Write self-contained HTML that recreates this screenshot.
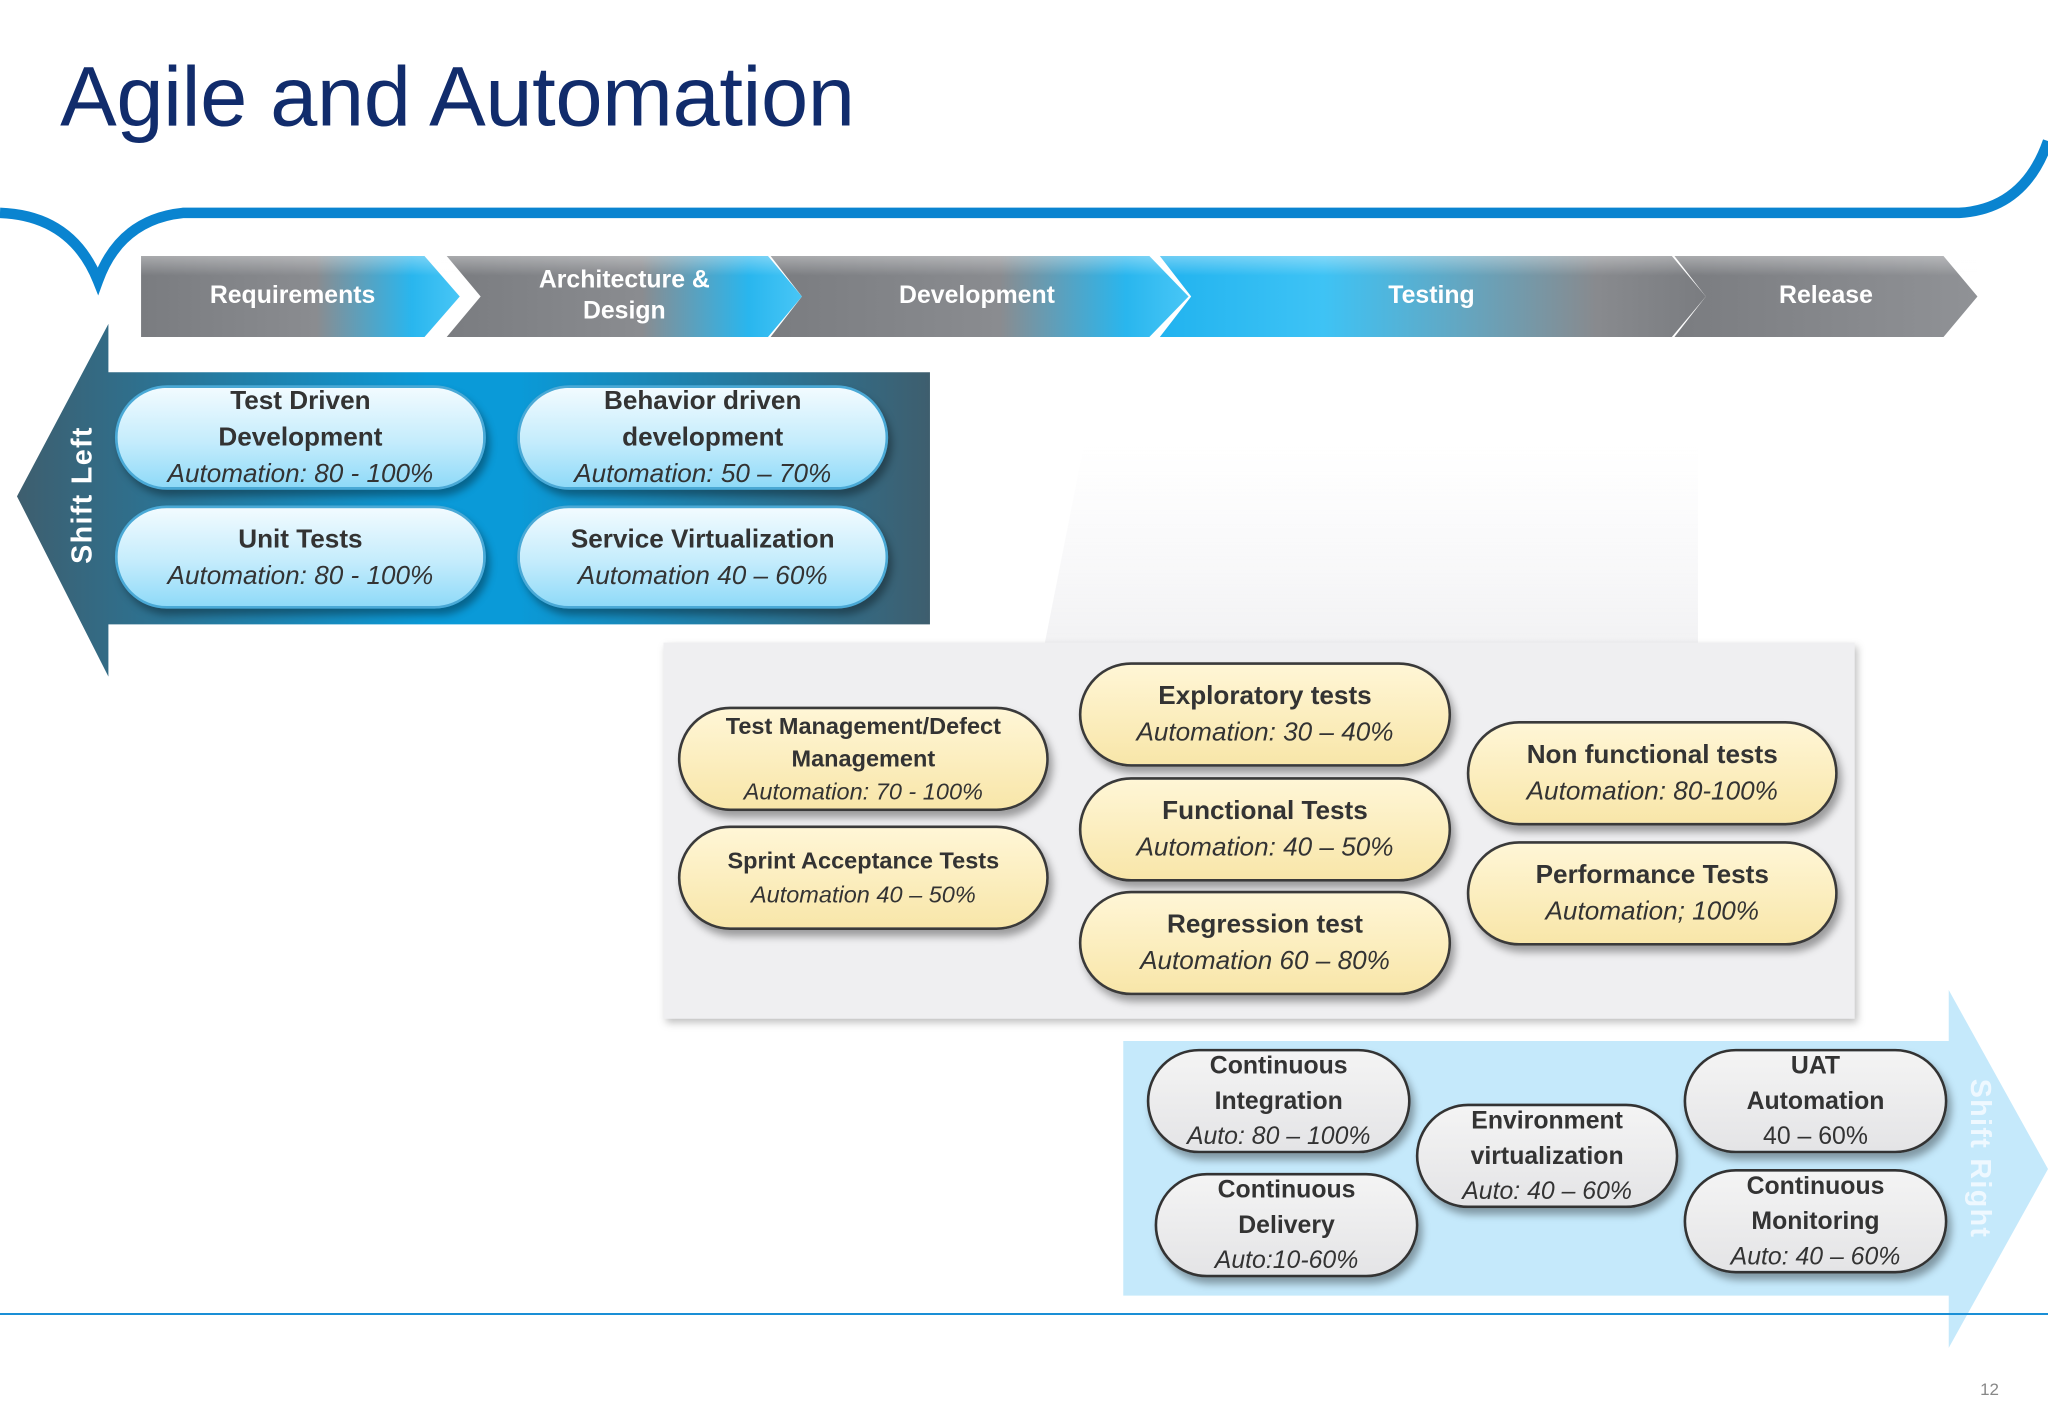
<!DOCTYPE html>
<html><head><meta charset="utf-8"><style>
html,body{margin:0;padding:0;background:#fff;overflow:hidden}
#w{position:absolute;left:0;top:0;width:1568px;height:1086px;transform:scale(1.306122);transform-origin:0 0;font-family:"Liberation Sans",sans-serif}
.a{position:absolute}
.pill{position:absolute;border-radius:40px;text-align:center;display:flex;flex-direction:column;justify-content:center;box-sizing:border-box;color:#333;font-size:20px;line-height:28px;box-shadow:3px 5px 6px rgba(0,0,0,.35)}
.pill b{font-weight:bold}
.pill i{font-style:italic}
.bl{background:linear-gradient(#f2fbff,#c4ecfc 55%,#8fdaf8);border:2px solid #4aa9d6}
.ye{background:linear-gradient(#fff6d6,#f8e6a9);border:2px solid #3a3a3a;font-size:20px}
.gr{background:linear-gradient(#f4f4f4,#e4e4e6);border:2px solid #333;font-size:19px;line-height:27px}
.chev{position:absolute;top:196px;height:62px;color:#fff;font-weight:bold;font-size:19px;display:flex;align-items:center;justify-content:center;text-align:center;line-height:24px}
</style></head><body><div id="w">
<div class="a" style="left:46px;top:36px;font-size:65px;color:#112c6c;letter-spacing:-0.3px">Agile and Automation</div>
<svg class="a" style="left:0;top:0" width="1568" height="1086">
<defs>
<linearGradient id="cg" x1="0" y1="0" x2="1" y2="0"><stop offset="0" stop-color="#7a7c80"/><stop offset=".55" stop-color="#8a8c90"/><stop offset=".85" stop-color="#29b6ee"/><stop offset="1" stop-color="#48c6f6"/></linearGradient>
<linearGradient id="cg2" x1="0" y1="0" x2="1" y2="0"><stop offset="0" stop-color="#21b3ef"/><stop offset=".3" stop-color="#3ec3f5"/><stop offset=".8" stop-color="#888a8e"/><stop offset="1" stop-color="#7a7c80"/></linearGradient>
<linearGradient id="cg3" x1="0" y1="0" x2="1" y2="0"><stop offset="0" stop-color="#7a7c80"/><stop offset="1" stop-color="#909296"/></linearGradient>
<linearGradient id="sl" x1="0" y1="0" x2="1" y2="0"><stop offset="0" stop-color="#3e5e6e"/><stop offset=".45" stop-color="#0a9ad8"/><stop offset=".55" stop-color="#0a9ad8"/><stop offset="1" stop-color="#3e5e6e"/></linearGradient>
<linearGradient id="sh" x1="0" y1="0" x2="0" y2="1"><stop offset="0" stop-color="#fff" stop-opacity=".35"/><stop offset=".5" stop-color="#fff" stop-opacity="0"/></linearGradient>
<linearGradient id="tr" x1="0" y1="0" x2="0" y2="1"><stop offset="0" stop-color="#f6f6f8" stop-opacity="0"/><stop offset="1" stop-color="#f2f2f4"/></linearGradient>
</defs>
<path d="M0,163 Q55,165 75,215 Q92,168 140,163 L1500,163 Q1550,160 1568,108" fill="none" stroke="#0a84d0" stroke-width="8"/>
<g>
<polygon points="108,196 325,196 352,227 325,258 108,258" fill="url(#cg)"/>
<polygon points="342,196 588,196 614,227 588,258 342,258 368,227" fill="url(#cg)"/>
<polygon points="590,196 880,196 910,227 880,258 590,258 614,227" fill="url(#cg)"/>
<polygon points="888,196 1280,196 1306,227 1280,258 888,258 912,227" fill="url(#cg2)"/>
<polygon points="1282,196 1488,196 1514,227 1488,258 1282,258 1306,227" fill="url(#cg3)"/>
<rect x="108" y="196" width="1406" height="30" fill="url(#sh)"/>
</g>
<polygon points="830,340 1300,340 1300,492 800,492" fill="url(#tr)"/>
<polygon points="83,248 83,285 712,285 712,478 83,478 83,518 13,380" fill="url(#sl)"/>
<rect x="508" y="492" width="912" height="288" fill="#efeff1" style="filter:drop-shadow(2px 3px 3px rgba(0,0,0,.25))"/>
<polygon points="860,797 1492,797 1492,758 1568,895 1492,1032 1492,992 860,992" fill="#c5e9fb"/>
<line x1="0" y1="1006" x2="1568" y2="1006" stroke="#1a8fd6" stroke-width="1.5"/>
</svg>
<div class="chev" style="left:108px;width:232px">Requirements</div>
<div class="chev" style="left:362px;width:232px">Architecture &amp;<br>Design</div>
<div class="chev" style="left:610px;width:276px">Development</div>
<div class="chev" style="left:906px;width:380px">Testing</div>
<div class="chev" style="left:1300px;width:196px">Release</div>
<div class="a" style="left:-7px;top:366px;width:140px;text-align:center;transform:rotate(-90deg);color:#fff;font-weight:bold;font-size:22px;letter-spacing:1px">Shift Left</div>
<div class="a" style="left:1446px;top:874px;width:140px;text-align:center;transform:rotate(90deg);color:#eef8ff;font-weight:bold;font-size:22px;letter-spacing:1px">Shift Right</div>

<div class="pill bl" style="left:88px;top:295px;width:284px;height:80px"><b>Test Driven<br>Development</b><i>Automation: 80 - 100%</i></div>
<div class="pill bl" style="left:396px;top:295px;width:284px;height:80px"><b>Behavior driven<br>development</b><i>Automation: 50 – 70%</i></div>
<div class="pill bl" style="left:88px;top:387px;width:284px;height:79px"><b>Unit Tests</b><i>Automation: 80 - 100%</i></div>
<div class="pill bl" style="left:396px;top:387px;width:284px;height:79px"><b>Service Virtualization</b><i>Automation 40 – 60%</i></div>

<div class="pill ye" style="left:519px;top:541px;width:284px;height:80px;font-size:18px;line-height:25px"><b>Test Management/Defect<br>Management</b><i>Automation: 70 - 100%</i></div>
<div class="pill ye" style="left:519px;top:632px;width:284px;height:80px;font-size:18px;line-height:26px"><b>Sprint Acceptance Tests</b><i>Automation 40 – 50%</i></div>
<div class="pill ye" style="left:826px;top:507px;width:285px;height:80px"><b>Exploratory tests</b><i>Automation: 30 – 40%</i></div>
<div class="pill ye" style="left:826px;top:595px;width:285px;height:80px"><b>Functional Tests</b><i>Automation: 40 – 50%</i></div>
<div class="pill ye" style="left:826px;top:682px;width:285px;height:80px"><b>Regression test</b><i>Automation 60 – 80%</i></div>
<div class="pill ye" style="left:1123px;top:552px;width:284px;height:80px"><b>Non functional tests</b><i>Automation: 80-100%</i></div>
<div class="pill ye" style="left:1123px;top:644px;width:284px;height:80px"><b>Performance Tests</b><i>Automation; 100%</i></div>

<div class="pill gr" style="left:878px;top:803px;width:202px;height:80px"><b>Continuous<br>Integration</b><i>Auto: 80 – 100%</i></div>
<div class="pill gr" style="left:884px;top:898px;width:202px;height:80px"><b>Continuous<br>Delivery</b><i>Auto:10-60%</i></div>
<div class="pill gr" style="left:1084px;top:845px;width:201px;height:80px"><b>Environment<br>virtualization</b><i>Auto: 40 – 60%</i></div>
<div class="pill gr" style="left:1289px;top:803px;width:202px;height:80px"><b>UAT<br>Automation</b><span>40 – 60%</span></div>
<div class="pill gr" style="left:1289px;top:895px;width:202px;height:80px"><b>Continuous<br>Monitoring</b><i>Auto: 40 – 60%</i></div>
<div class="a" style="left:1516px;top:1056px;font-size:13px;color:#888">12</div>
</div></body></html>
